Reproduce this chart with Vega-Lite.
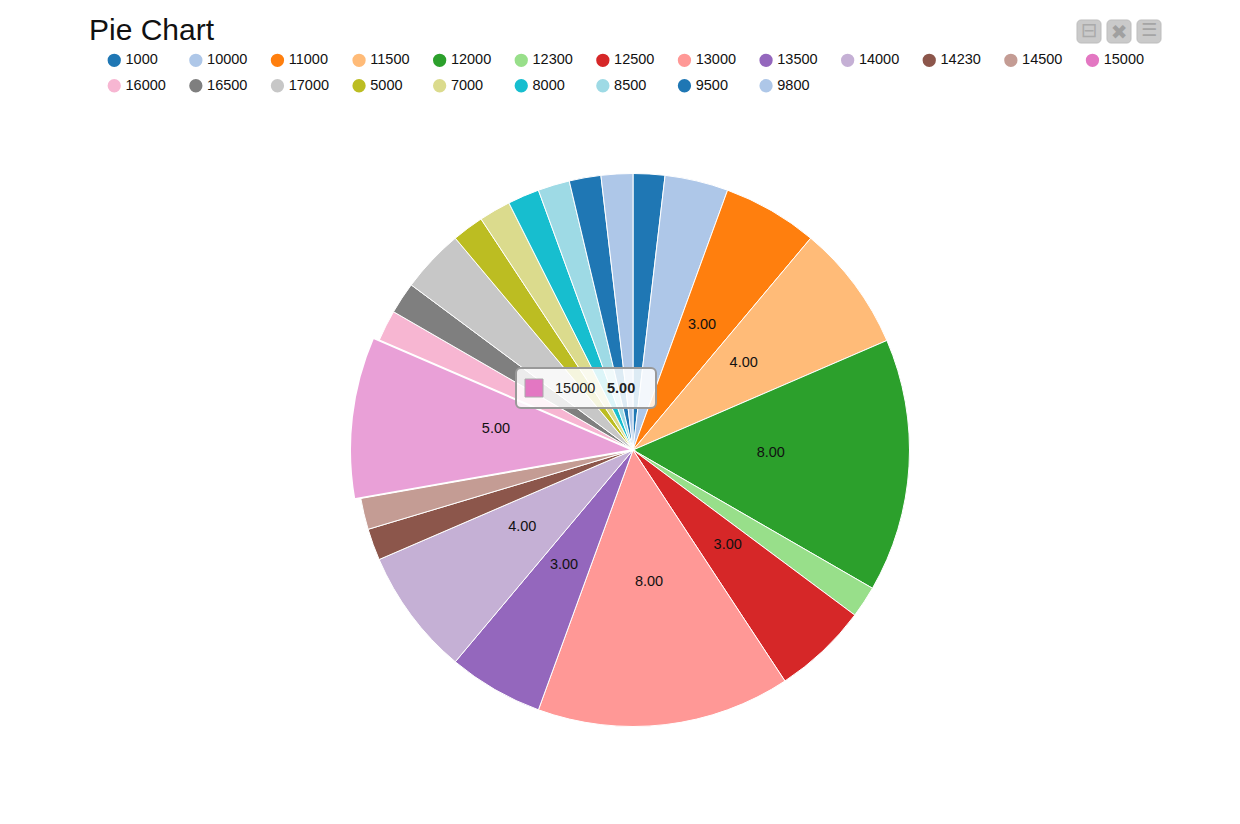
{"$schema":"https://vega.github.io/schema/vega-lite/v6.json","width":1200,"height":700,"padding":{"left":33,"top":100,"right":7,"bottom":24},"autosize":"none","background":"white","config":{"view":{"stroke":null},"font":"Liberation Sans"},"title":{"text":"Pie Chart","anchor":"start","frame":"group","dx":56,"dy":50.5,"offset":0,"baseline":"alphabetic","fontSize":30,"fontWeight":"normal","font":"Liberation Sans","color":"#111111"},
"datasets":{"slices":[{"i":1,"category":"1000","value":1},{"i":2,"category":"10000","value":2},{"i":3,"category":"11000","value":3},{"i":4,"category":"11500","value":4},{"i":5,"category":"12000","value":8},{"i":6,"category":"12300","value":1},{"i":7,"category":"12500","value":3},{"i":8,"category":"13000","value":8},{"i":9,"category":"13500","value":3},{"i":10,"category":"14000","value":4},{"i":11,"category":"14230","value":1},{"i":12,"category":"14500","value":1},{"i":13,"category":"15000","value":5},{"i":14,"category":"16000","value":1},{"i":15,"category":"16500","value":1},{"i":16,"category":"17000","value":2},{"i":17,"category":"5000","value":1},{"i":18,"category":"7000","value":1},{"i":19,"category":"8000","value":1},{"i":20,"category":"8500","value":1},{"i":21,"category":"9500","value":1},{"i":22,"category":"9800","value":1}]},
"data":{"name":"slices"},
"transform":[{"stack":"value","sort":[{"field":"i","order":"ascending"}],"as":["a0","a1"]},{"calculate":"(datum.a0+datum.a1)/2","as":"mid"}],
"layer":[
{"mark":{"type":"arc","outerRadius":276.5,"stroke":"white","strokeWidth":1},
"encoding":{"theta":{"field":"a0","type":"quantitative","scale":{"domain":[0,54],"range":[0,6.283185]}},"theta2":{"field":"a1"},
"color":{"field":"category","type":"nominal","sort":null,"scale":{"domain":["1000","10000","11000","11500","12000","12300","12500","13000","13500","14000","14230","14500","15000","16000","16500","17000","5000","7000","8000","8500","9500","9800"],"range":["#1f77b4","#aec7e8","#ff7f0e","#ffbb78","#2ca02c","#98df8a","#d62728","#ff9896","#9467bd","#c5b0d5","#8c564b","#c49c94","#e377c2","#f7b6d2","#7f7f7f","#c7c7c7","#bcbd22","#dbdb8d","#17becf","#9edae5","#1f77b4","#aec7e8"]},
"legend":{"orient":"none","direction":"horizontal","legendX":74,"legendY":-47,"columns":13,"title":null,"symbolType":"circle","symbolSize":177,"symbolStrokeWidth":0,"labelFontSize":14.5,"labelFont":"Liberation Sans","labelColor":"#111111","labelOffset":4,"columnPadding":22.6,"rowPadding":10.5,"padding":0,"gridAlign":"each"}}}},
{"transform":[{"filter":"datum.category === '15000'"}],"mark":{"type":"arc","outerRadius":283,"stroke":"white","strokeWidth":2,"fill":"#e9a0d7"},
"encoding":{"theta":{"field":"a0","type":"quantitative","scale":{"domain":[0,54],"range":[0,6.283185]}},"theta2":{"field":"a1"}}},
{"transform":[{"filter":"datum.value >= 3"}],"mark":{"type":"text","radius":138,"dy":-5,"fontSize":14.5,"color":"#111111","font":"Liberation Sans"},
"encoding":{"theta":{"field":"mid","type":"quantitative","scale":{"domain":[0,54],"range":[0,6.283185]}},"text":{"field":"value","type":"quantitative","format":".2f"}}},
{"transform":[{"filter":"datum.category === '15000'"}],"mark":{"type":"rect","fill":"white","fillOpacity":0.85,"stroke":"#999999","strokeWidth":2,"cornerRadius":5},
"encoding":{"x":{"datum":516,"type":"quantitative","axis":null,"scale":{"domain":[33,1233],"range":[0,1200],"zero":false,"nice":false}},"x2":{"datum":656},"y":{"datum":368,"type":"quantitative","axis":null,"scale":{"domain":[100,800],"range":[0,700],"zero":false,"nice":false}},"y2":{"datum":408}}},
{"transform":[{"filter":"datum.category === '15000'"}],"mark":{"type":"rect","stroke":"#aaaaaa","strokeWidth":1},
"encoding":{"x":{"datum":525,"type":"quantitative","axis":null,"scale":{"domain":[33,1233],"range":[0,1200],"zero":false,"nice":false}},"x2":{"datum":543},"y":{"datum":379,"type":"quantitative","axis":null,"scale":{"domain":[100,800],"range":[0,700],"zero":false,"nice":false}},"y2":{"datum":397},"color":{"field":"category","type":"nominal","legend":null}}},
{"transform":[{"filter":"datum.category === '15000'"}],"mark":{"type":"text","align":"left","baseline":"middle","fontSize":14.5,"color":"#222222"},
"encoding":{"x":{"datum":555,"type":"quantitative","axis":null,"scale":{"domain":[33,1233],"range":[0,1200],"zero":false,"nice":false}},"y":{"datum":389,"type":"quantitative","axis":null,"scale":{"domain":[100,800],"range":[0,700],"zero":false,"nice":false}},"text":{"field":"category"}}},
{"transform":[{"filter":"datum.category === '15000'"}],"mark":{"type":"text","align":"left","baseline":"middle","fontSize":14.5,"fontWeight":"bold","color":"#222222"},
"encoding":{"x":{"datum":607,"type":"quantitative","axis":null,"scale":{"domain":[33,1233],"range":[0,1200],"zero":false,"nice":false}},"y":{"datum":389,"type":"quantitative","axis":null,"scale":{"domain":[100,800],"range":[0,700],"zero":false,"nice":false}},"text":{"field":"value","type":"quantitative","format":".2f"}}},
{"transform":[{"filter":"datum.category === '15000'"}],"mark":{"type":"rect","fill":"#cacaca","stroke":"#bdbdbd","strokeWidth":1,"cornerRadius":4},
"encoding":{"x":{"datum":1077,"type":"quantitative","axis":null,"scale":{"domain":[33,1233],"range":[0,1200],"zero":false,"nice":false}},"x2":{"datum":1101},"y":{"datum":20,"type":"quantitative","axis":null,"scale":{"domain":[100,800],"range":[0,700],"zero":false,"nice":false}},"y2":{"datum":43}}},
{"transform":[{"filter":"datum.category === '15000'"}],"mark":{"type":"rect","fill":"#cacaca","stroke":"#bdbdbd","strokeWidth":1,"cornerRadius":4},
"encoding":{"x":{"datum":1107,"type":"quantitative","axis":null,"scale":{"domain":[33,1233],"range":[0,1200],"zero":false,"nice":false}},"x2":{"datum":1131},"y":{"datum":20,"type":"quantitative","axis":null,"scale":{"domain":[100,800],"range":[0,700],"zero":false,"nice":false}},"y2":{"datum":43}}},
{"transform":[{"filter":"datum.category === '15000'"}],"mark":{"type":"rect","fill":"#cacaca","stroke":"#bdbdbd","strokeWidth":1,"cornerRadius":4},
"encoding":{"x":{"datum":1137,"type":"quantitative","axis":null,"scale":{"domain":[33,1233],"range":[0,1200],"zero":false,"nice":false}},"x2":{"datum":1161},"y":{"datum":20,"type":"quantitative","axis":null,"scale":{"domain":[100,800],"range":[0,700],"zero":false,"nice":false}},"y2":{"datum":43}}},
{"transform":[{"filter":"datum.category === '15000'"}],"mark":{"type":"text","text":"⊟","font":"DejaVu Sans","fontSize":20,"color":"#aaaaaa","baseline":"middle"},
"encoding":{"x":{"datum":1089,"type":"quantitative","axis":null,"scale":{"domain":[33,1233],"range":[0,1200],"zero":false,"nice":false}},"y":{"datum":31,"type":"quantitative","axis":null,"scale":{"domain":[100,800],"range":[0,700],"zero":false,"nice":false}}}},
{"transform":[{"filter":"datum.category === '15000'"}],"mark":{"type":"text","text":"✖","font":"DejaVu Sans","fontSize":20,"color":"#a0a0a0","baseline":"middle"},
"encoding":{"x":{"datum":1119,"type":"quantitative","axis":null,"scale":{"domain":[33,1233],"range":[0,1200],"zero":false,"nice":false}},"y":{"datum":33,"type":"quantitative","axis":null,"scale":{"domain":[100,800],"range":[0,700],"zero":false,"nice":false}}}},
{"transform":[{"filter":"datum.category === '15000'"}],"mark":{"type":"text","text":"☰","font":"DejaVu Sans","fontSize":18,"fontWeight":"bold","color":"#a5a5a5","baseline":"middle"},
"encoding":{"x":{"datum":1149,"type":"quantitative","axis":null,"scale":{"domain":[33,1233],"range":[0,1200],"zero":false,"nice":false}},"y":{"datum":31,"type":"quantitative","axis":null,"scale":{"domain":[100,800],"range":[0,700],"zero":false,"nice":false}}}}
]}
